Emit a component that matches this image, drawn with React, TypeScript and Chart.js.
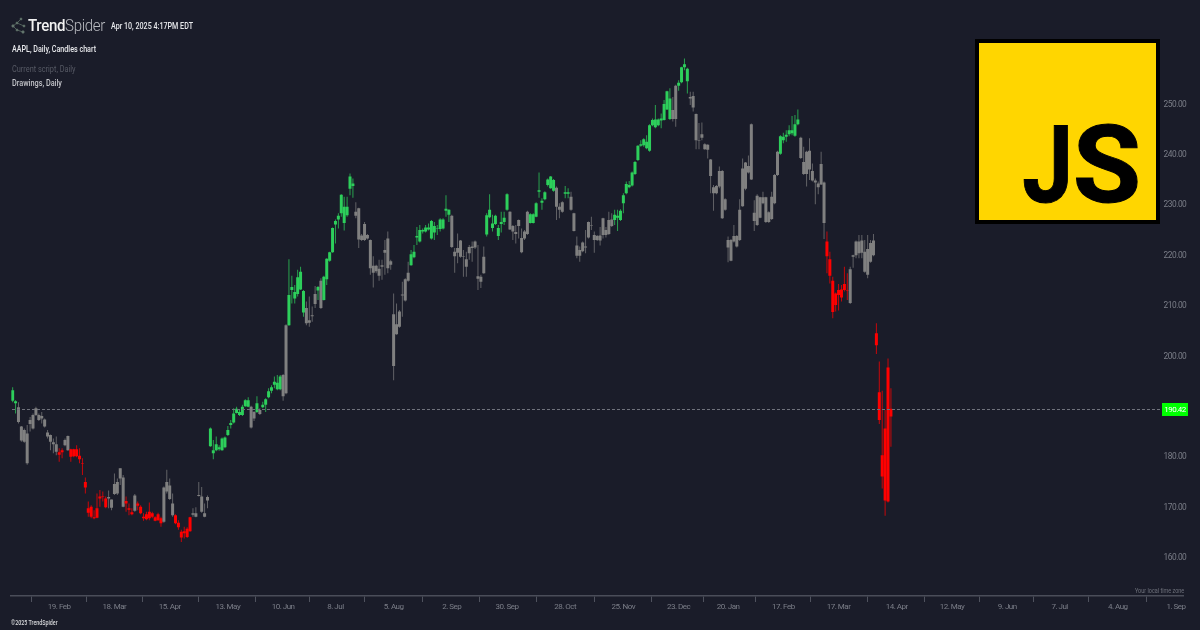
import React, { useEffect, useRef } from 'react';
import { Chart, registerables } from 'chart.js';

Chart.register(...registerables);

// daily AAPL candles. G up, R down, K neutral
const highs = [
  194.7,192.1,191.7,187.0,186.5,187.2,188.8,189.5,190.8,189.5,
  189.8,188.5,186.2,185.3,184.5,184.9,182.6,182.6,184.5,185.1,
  182.5,182.5,183.2,182.6,180.6,176.8,172.0,171.3,170.3,173.6,
  174.3,174.0,173.0,174.2,172.4,177.6,176.6,178.6,177.3,173.0,
  171.6,170.7,173.5,172.0,171.3,169.7,170.0,171.8,170.0,169.1,
  169.8,169.0,175.0,178.3,176.6,173.6,169.5,168.3,166.4,167.0,
  166.9,169.0,170.7,170.9,175.9,174.9,171.6,173.2,186.7,184.2,
  184.9,183.2,184.7,184.9,187.0,188.2,190.5,190.8,190.2,191.2,
  192.3,192.7,191.0,190.0,192.9,190.5,191.8,192.5,194.5,195.1,
  196.8,197.1,197.1,197.3,207.2,220.1,216.8,215.0,218.0,218.6,
  214.0,211.7,212.7,210.7,214.8,214.8,216.3,216.8,220.3,221.6,
  226.4,228.0,229.2,233.0,232.5,232.5,237.1,236.1,231.4,230.3,
  225.1,227.5,225.1,224.0,220.7,219.0,220.0,220.0,223.9,225.6,
  220.0,213.3,211.3,210.0,215.6,216.3,219.6,221.9,222.9,226.5,
  226.9,226.2,226.9,227.2,227.9,227.5,226.9,228.2,228.2,232.8,
  230.0,228.9,222.3,225.2,223.9,221.9,221.6,222.9,223.6,223.8,
  222.9,217.0,222.6,229.2,233.0,228.9,228.9,226.9,229.5,229.5,
  233.2,229.6,226.9,226.9,228.0,226.2,225.9,229.7,229.2,229.2,
  231.4,237.3,232.2,233.6,236.1,236.6,236.0,234.5,231.2,231.6,
  234.6,234.2,233.5,229.3,224.6,222.6,223.6,225.9,227.6,228.5,
  225.6,224.9,226.5,228.3,226.5,229.5,229.2,229.9,229.9,230.0,
  233.2,235.5,235.6,237.5,239.6,242.7,243.7,244.1,244.7,246.9,
  248.0,250.7,248.0,249.0,251.7,253.5,254.0,252.3,254.7,255.6,
  258.3,259.9,258.1,253.3,253.3,249.0,247.1,247.2,243.1,242.9,
  240.0,234.8,234.8,238.5,237.8,232.2,224.6,224.1,226.9,224.9,
  232.0,240.1,239.4,240.7,247.0,231.8,233.0,232.5,233.5,232.5,
  229.6,233.5,237.0,241.6,244.7,245.2,245.7,246.7,248.5,248.7,
  249.8,244.4,242.4,241.6,244.1,239.1,236.1,235.5,241.4,235.5,
  225.6,221.6,216.6,213.5,215.2,215.0,218.6,217.3,218.6,221.0,
  223.8,224.9,224.9,223.9,224.9,223.9,225.1,207.4,199.8,194.0,190.2,200.4,194.5,
];

const bodyTops = [
  194.1,191.9,190.7,186.9,186.2,185.5,188.2,189.2,190.5,189.2,
  189.0,188.3,185.7,185.2,183.8,183.4,181.8,182.2,184.2,185.0,
  182.4,182.4,182.4,181.1,179.6,175.9,170.7,171.0,168.9,170.7,
  173.0,173.0,172.6,172.9,172.4,175.5,175.9,178.6,176.8,172.1,
  170.7,169.9,173.2,171.6,171.0,169.0,169.5,170.0,169.7,168.9,
  169.5,168.7,174.8,175.9,175.2,171.6,169.3,167.8,166.0,166.1,
  166.6,168.9,169.7,169.7,173.3,173.0,169.7,172.9,186.5,182.2,
  183.4,182.8,184.5,184.7,186.2,187.6,189.5,190.4,189.8,190.8,
  192.1,192.1,190.8,189.8,191.5,190.2,191.2,192.3,193.9,194.7,
  195.8,195.6,196.8,197.1,207.0,213.0,214.6,213.6,216.5,217.6,
  213.8,210.4,208.0,209.0,213.2,214.6,215.8,216.6,220.2,221.5,
  226.3,227.7,228.7,232.9,230.5,230.5,236.5,235.1,229.5,230.2,
  224.8,227.1,224.9,223.9,218.8,218.8,218.2,218.9,221.9,224.2,
  219.7,209.2,207.2,209.7,213.1,216.1,217.4,221.1,221.6,224.7,
  225.9,225.9,226.4,226.4,227.7,226.7,226.2,228.0,228.0,230.1,
  229.9,228.7,221.6,222.3,223.8,220.7,220.1,222.5,222.6,223.6,
  216.7,216.6,220.6,228.8,229.9,227.2,228.7,226.3,227.5,228.3,
  233.0,229.5,226.7,225.5,227.9,224.3,225.6,229.5,229.0,229.0,
  231.2,233.8,231.7,233.4,235.9,236.5,235.8,234.3,230.5,231.4,
  233.4,233.4,232.5,229.2,222.8,221.9,223.4,222.6,227.5,226.9,
  224.9,224.7,224.8,228.2,225.9,227.9,228.0,228.9,228.7,229.7,
  232.8,235.0,234.8,237.3,239.4,242.6,242.9,243.9,243.4,246.7,
  247.7,247.8,247.8,248.0,250.9,253.4,252.0,249.7,254.5,255.1,
  258.2,258.8,257.9,252.3,252.5,248.9,243.7,244.9,242.9,242.8,
  239.9,234.4,234.6,237.6,237.6,232.0,223.9,223.9,224.7,224.7,
  229.9,238.1,239.3,238.6,246.9,229.3,232.7,232.4,232.4,232.4,
  229.4,232.5,236.8,241.4,244.5,244.4,244.8,245.7,245.7,246.9,
  247.8,244.2,239.4,241.4,241.6,237.6,235.7,235.1,239.0,235.3,
  223.6,220.1,215.8,213.3,214.0,214.1,215.2,214.0,218.1,220.9,
  223.6,223.6,223.8,221.6,222.1,223.3,223.8,205.4,193.7,181.2,186.5,198.6,190.4,
];

const bodyBottoms = [
  192.0,191.5,187.8,184.1,183.9,179.6,187.4,186.5,189.2,188.2,
  188.5,186.9,184.9,183.9,183.4,181.9,181.3,181.8,183.2,182.2,
  180.9,181.0,181.0,180.4,179.5,174.8,169.8,169.0,168.7,168.8,
  172.6,172.9,170.9,172.6,170.8,173.5,173.6,176.6,171.0,171.6,
  170.4,169.5,170.2,171.2,169.7,168.7,168.5,168.7,169.0,168.2,
  168.3,167.7,168.0,174.0,172.5,169.3,167.7,166.9,164.9,165.7,
  165.0,166.1,169.4,169.0,173.1,170.0,169.0,172.2,183.0,181.6,
  182.2,182.4,182.2,182.8,185.2,187.2,187.7,189.6,189.2,189.2,
  190.9,190.8,186.7,188.5,189.8,189.4,190.7,191.2,192.7,194.0,
  195.2,194.3,194.3,192.9,193.5,207.0,214.0,212.3,213.2,214.1,
  209.5,207.4,207.5,208.8,211.2,213.9,210.4,212.0,216.1,219.8,
  221.5,227.0,228.0,229.2,227.3,228.8,234.1,234.6,228.7,224.0,
  223.9,223.9,224.2,218.3,217.4,217.7,216.8,218.6,221.4,218.3,
  219.0,198.9,205.2,206.7,212.9,211.9,215.8,218.9,220.5,224.4,
  223.6,225.6,225.6,226.0,224.2,225.4,226.1,226.1,226.2,229.7,
  228.9,222.5,220.7,221.4,220.6,220.6,218.6,221.3,222.3,222.4,
  216.2,215.6,217.3,225.0,228.4,226.3,227.1,224.7,227.1,227.5,
  229.9,226.0,225.6,225.1,226.7,221.5,224.2,225.1,227.3,227.3,
  228.5,233.5,231.3,232.0,234.8,234.2,233.7,230.5,229.9,229.5,
  233.1,233.1,229.9,225.7,220.8,220.8,221.7,222.4,224.4,226.8,
  223.9,223.9,223.8,224.9,224.9,225.1,226.7,227.9,228.3,227.9,
  231.2,233.2,234.4,234.7,237.0,239.8,242.6,242.7,242.1,241.6,
  246.7,246.3,246.7,247.6,247.7,249.8,247.9,247.9,247.9,254.5,
  255.2,258.2,255.4,252.0,250.2,243.7,243.6,244.2,241.9,241.8,
  236.6,233.2,233.2,234.5,228.2,229.9,222.4,219.8,223.6,222.6,
  223.9,230.6,234.1,237.3,235.9,227.7,226.9,228.3,231.2,227.5,
  227.5,228.1,231.2,236.8,241.0,243.7,244.4,244.9,245.1,244.6,
  246.9,240.2,237.0,237.0,237.9,235.7,235.3,234.4,234.9,227.3,
  220.7,216.8,209.6,211.0,213.0,212.5,214.0,213.9,211.4,220.6,
  220.9,221.3,221.4,217.6,217.0,219.6,220.9,203.0,188.2,177.0,172.2,172.0,188.9,
];

const lows = [
  191.7,189.5,187.5,183.9,183.7,179.3,185.9,186.3,189.0,188.0,
  187.5,186.7,184.5,182.2,181.6,181.2,179.9,180.6,183.0,182.1,
  179.9,180.8,180.8,179.6,177.3,173.6,169.0,168.7,168.5,168.7,
  171.0,172.0,170.7,170.7,170.3,173.3,173.3,175.3,170.9,170.0,
  169.3,169.3,170.0,170.3,169.5,168.2,168.3,168.3,168.7,168.1,
  168.2,167.0,167.8,173.6,172.3,169.0,167.5,166.4,164.0,164.7,
  164.8,166.0,169.0,168.9,173.0,169.8,168.9,170.7,182.9,180.4,
  182.0,182.1,182.1,182.6,185.0,186.5,187.5,189.5,189.0,189.0,
  190.8,190.7,186.5,188.0,189.6,189.2,190.5,189.8,192.5,193.5,
  194.5,194.1,194.1,192.0,193.3,206.9,211.3,211.3,212.7,214.0,
  208.7,207.0,206.7,207.7,210.4,212.0,210.2,211.9,215.0,219.6,
  221.4,223.2,226.2,228.5,225.8,228.5,232.8,232.3,228.2,222.3,
  223.7,223.7,224.0,217.0,214.5,217.3,215.8,216.0,217.0,217.3,
  218.0,196.1,205.1,206.5,208.7,211.7,215.6,218.8,220.3,222.9,
  223.4,225.2,225.4,225.8,224.0,223.9,224.9,225.6,226.0,228.5,
  227.5,222.3,217.4,219.3,220.4,216.6,216.6,220.0,219.6,222.1,
  214.0,214.4,217.2,224.6,228.2,225.6,226.9,223.9,225.4,226.9,
  229.7,225.9,223.9,223.2,224.2,221.3,223.9,224.9,227.2,227.2,
  228.4,232.3,229.9,231.8,234.5,234.1,233.5,227.9,228.2,229.3,
  232.2,232.2,229.7,225.6,220.3,219.6,221.5,221.3,224.2,225.9,
  221.4,223.7,222.8,224.2,224.4,224.9,226.5,226.9,225.7,227.7,
  229.2,233.0,234.2,234.5,236.8,239.6,242.4,242.4,241.9,241.4,
  246.5,246.1,246.5,246.1,247.6,249.7,247.7,247.4,246.4,253.5,
  255.0,257.6,253.0,250.7,249.4,241.9,241.9,243.7,241.8,240.1,
  233.2,229.7,233.0,234.2,228.1,229.7,219.5,219.7,223.4,222.4,
  223.7,230.5,233.8,237.1,235.8,225.7,226.7,228.2,231.0,227.3,
  227.3,227.9,231.0,236.6,240.8,243.1,243.4,244.5,244.7,244.4,
  246.7,240.0,236.8,234.5,235.8,235.5,231.0,233.0,234.8,224.1,
  217.3,215.3,208.4,209.7,209.9,211.7,213.7,212.0,211.2,218.4,
  220.3,220.3,220.3,217.4,216.3,219.4,220.7,201.3,187.4,174.6,169.2,171.8,182.9,
];

const tones = [
  'GGKKKKKKKK', 'KKKKKKRRKK', 'RRRRRRRRRR', 'RRRKKKKKKR', 'RRKRRRRRRR',
  'RRKKKKRRRR', 'RRKKKKKKGG', 'GGGGGGGGGG', 'GGKKGKGGGG', 'GGGKKGGGGG',
  'GKKKKGKGGG', 'GGGGGGGGKK', 'KKKKKKKKKK', 'KKKKKKKGGG', 'GGGGGGGGGG',
  'GKKKKKKKKK', 'KKKGGGGGGG', 'GKKKKKKKGG', 'GGGGGGGKKK', 'GGKKKKKKKK',
  'KKKKKKKGGG', 'GGGGGGGGGG', 'GGGGGGGKKG', 'GGGKKKKKKK', 'KKKKKKKKKK',
  'KKKKKKKKKK', 'KKKKGGGGGG', 'GKKKKKKKKK', 'RRRRRRRRKK', 'KKKKKKKRRRRRR',
].join('');

// date axis, the last slots are empty future days
const slotCount = 403;
const tickDates = ['19. Feb', '18. Mar', '15. Apr', '13. May', '10. Jun', '8. Jul', '5. Aug', '2. Sep', '30. Sep', '28. Oct', '25. Nov', '23. Dec', '20. Jan', '17. Feb', '17. Mar', '14. Apr', '12. May', '9. Jun', '7. Jul', '4. Aug', '1. Sep'];
const tickSlots = [16, 35, 54, 74, 93, 111, 131, 151, 170, 190, 210, 229, 246, 265, 284, 304, 323, 342, 360, 380, 400];
const priceTicks = [160, 170, 180, 200, 210, 220, 230, 240, 250];
const lastClose = 190.42;

const BG = '#1a1c29';
const toneColors: Record<string, string> = { G: '#2dcf5b', R: '#ff0000', K: '#808080' };
const wickColors: Record<string, string> = { G: 'rgba(45,207,91,0.75)', R: 'rgba(255,0,0,0.75)', K: 'rgba(128,128,128,0.7)' };

const lastPricePlugin = {
  id: 'lastPrice',
  beforeDraw(chart: any) {
    // the reference's labels are condensed, and no narrow font is installed
    chart.ctx.letterSpacing = '-0.5px';
  },
  afterDraw(chart: any) {
    const { ctx, scales } = chart;
    const y = Math.round(scales.y.getPixelForValue(lastClose)) + 0.5;
    ctx.save();
    ctx.strokeStyle = '#70727c';
    ctx.lineWidth = 1;
    ctx.setLineDash([3, 2]);
    ctx.beginPath();
    ctx.moveTo(12, y);
    ctx.lineTo(1162, y);
    ctx.stroke();
    ctx.setLineDash([]);
    ctx.fillStyle = '#00ff00';
    ctx.fillRect(1162, y - 6.5, 26, 13);
    ctx.fillStyle = '#ffffff';
    ctx.font = '8px Roboto';
    ctx.textAlign = 'center';
    ctx.textBaseline = 'middle';
    ctx.fillText(lastClose.toFixed(2), 1175, y + 0.5);
    ctx.restore();
  },
};

const textStyle = (left: number, top: number, size: number, color: string, squeeze: number, weight = 400): React.CSSProperties => ({
  position: 'absolute',
  left,
  top,
  fontSize: size,
  lineHeight: '12px',
  color,
  fontWeight: weight,
  fontFamily: 'Roboto, sans-serif',
  whiteSpace: 'nowrap',
  transform: `scaleX(${squeeze})`,
  transformOrigin: 'left center',
});

const App: React.FC = () => {
  const canvasRef = useRef<HTMLCanvasElement | null>(null);

  useEffect(() => {
    document.body.style.margin = '0';
    document.body.style.background = BG;
    if (!canvasRef.current) return;

    const labels = Array.from({ length: slotCount }, (_, i) => String(i));
    const colors = highs.map((_, i) => toneColors[tones[i]]);
    const wicks = highs.map((_, i) => wickColors[tones[i]]);

    const chart = new Chart(canvasRef.current, {
      type: 'bar',
      plugins: [lastPricePlugin],
      data: {
        labels,
        datasets: [
          {
            label: 'body',
            data: highs.map((_, i) => [bodyBottoms[i], bodyTops[i]]),
            backgroundColor: colors,
            barThickness: 3,
            order: 1,
            grouped: false,
            inflateAmount: 0,
          },
          {
            label: 'wick',
            data: highs.map((h, i) => [lows[i], h]),
            backgroundColor: wicks,
            barThickness: 1,
            order: 2,
            grouped: false,
            inflateAmount: 0,
          },
        ] as any,
      },
      options: {
        responsive: false,
        animation: false,
        layout: { padding: { left: 11.2, right: 16.8, top: 0, bottom: 0 } },
        plugins: { legend: { display: false }, tooltip: { enabled: false } },
        scales: {
          x: {
            type: 'category',
            afterBuildTicks: (axis: any) => {
              axis.ticks = axis.ticks.filter((t: any) => tickSlots.includes(t.value));
            },
            afterFit: (axis: any) => {
              axis.height = 34;
              axis.paddingLeft = 0;
              axis.paddingRight = 0;
            },
            border: { color: '#4a4d59', width: 1.5 },
            grid: { drawOnChartArea: false, drawTicks: true, tickLength: 6, color: '#4f525e' },
            ticks: {
              autoSkip: false,
              maxRotation: 0,
              minRotation: 0,
              padding: 0,
              color: '#7b7e88',
              font: { family: 'Roboto', size: 8 },
              callback: (value: any) => tickDates[tickSlots.indexOf(Number(value))],
            },
          },
          y: {
            position: 'right',
            min: 153.27,
            max: 271.53,
            afterBuildTicks: (axis: any) => {
              axis.ticks = priceTicks.map((value) => ({ value }));
            },
            afterFit: (axis: any) => {
              axis.width = 0;
              axis.paddingTop = 0;
              axis.paddingBottom = 0;
            },
            border: { display: false },
            grid: { display: false, drawTicks: false },
            ticks: {
              mirror: true,
              padding: 3.1,
              color: '#7b7e88',
              font: { family: 'Roboto', size: 8.4, lineHeight: '8px' },
              // the labels sit about 4px above their price level in the reference
              callback: (value: any) => [Number(value).toFixed(2), ''],
            },
          },
        },
      } as any,
    });

    return () => chart.destroy();
  }, []);

  return (
    <div style={{ position: 'relative', width: 1200, height: 630, background: BG, overflow: 'hidden' }}>
      <canvas ref={canvasRef} width={1200} height={630} style={{ position: 'absolute', left: 0, top: 0 }} />

      <svg width="16" height="18" style={{ position: 'absolute', left: 10, top: 17 }}>
        <g stroke="#5c6e66" strokeWidth="0.8" fill="#6f7f78">
          <line x1="3" y1="9" x2="7" y2="6" />
          <line x1="7" y1="6" x2="11" y2="2" />
          <line x1="7" y1="6" x2="14" y2="9" />
          <line x1="3" y1="9" x2="7" y2="13" />
          <line x1="7" y1="13" x2="13" y2="15" />
          <circle cx="3" cy="9" r="1.2" />
          <circle cx="7" cy="6" r="1" />
          <circle cx="11" cy="2" r="1" />
          <circle cx="14" cy="9" r="1" />
          <circle cx="7" cy="13" r="1" />
          <circle cx="13" cy="15" r="1.2" />
        </g>
      </svg>
      <div style={{ position: 'absolute', left: 27.5, top: 16, fontSize: 16, lineHeight: '20px', fontFamily: 'Roboto, sans-serif', whiteSpace: 'nowrap', letterSpacing: -0.35, transform: 'scaleX(0.94)', transformOrigin: 'left center' }}>
        <span style={{ color: '#f2f2f2', fontWeight: 500 }}>Trend</span>
        <span style={{ color: '#b9bbc0', fontWeight: 300 }}>Spider</span>
      </div>
      <div style={textStyle(111, 20, 8.5, '#e8e9ec', 0.84, 500)}>Apr 10, 2025 4:17PM EDT</div>
      <div style={textStyle(12, 43, 8.5, '#e8e9ec', 0.84, 500)}>AAPL, Daily, Candles chart</div>
      <div style={textStyle(12, 63, 8.5, '#565964', 0.865)}>Current script, Daily</div>
      <div style={textStyle(12, 77, 8.5, '#c4c5ca', 0.86, 500)}>Drawings, Daily</div>
      <div style={textStyle(11, 617, 6.5, '#d8d9dc', 0.82, 500)}>©2025 TrendSpider</div>
      <div style={textStyle(1135, 585, 7, '#6f727c', 0.78)}>Your local time zone</div>

      <div style={{ position: 'absolute', left: 975, top: 39, width: 177, height: 177, border: '4.5px solid #000', background: '#ffd600', overflow: 'hidden' }}>
        <div style={{ position: 'absolute', right: 15, top: 67.5, fontSize: 111, lineHeight: '111px', fontWeight: 700, color: '#000', fontFamily: 'Roboto, sans-serif', whiteSpace: 'nowrap', WebkitTextStroke: '1px #000', transform: 'scaleY(0.975)', transformOrigin: 'top' }}>
          <span style={{ display: 'inline-block', transform: 'scaleX(0.82)', transformOrigin: 'right center' }}>J</span>
          <span>S</span>
        </div>
      </div>
    </div>
  );
};

export default App;
